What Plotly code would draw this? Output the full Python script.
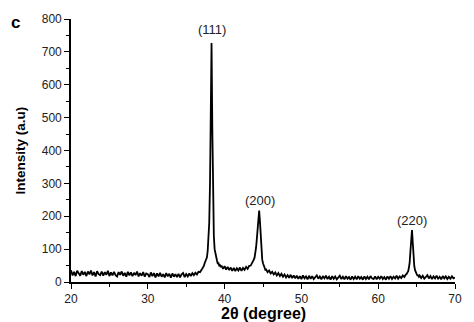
import numpy as np
import plotly.graph_objects as go

# ---- data: XRD pattern (segments of 2theta grid) ----
seg_a_range = (20.0, 37.0)
seg_a = [36, 20, 31, 18, 34, 24, 19, 33, 22, 31,
         18, 32, 23, 35, 20, 30, 17, 33, 24, 21,
         32, 19, 30, 22, 34, 18, 29, 20, 31, 21,
         17, 30, 22, 32, 19, 28, 16, 31, 20, 29,
         18, 28, 21, 32, 17, 27, 19, 30, 16, 26,
         24, 15, 29, 18, 27, 14, 26, 17, 28, 16,
         24, 14, 27, 17, 25, 13, 26, 16, 24, 15,
         25, 14, 23, 27, 15, 24, 17, 26, 18, 27,
         21, 28, 23, 31, 30, 37]
seg_b_range = (37.1, 39.5)
seg_b = [40, 46, 49, 57, 62, 70, 75, 95, 125, 180, 300, 520, 727,
         470, 240, 140, 100, 84, 70, 66, 57, 57, 50, 51, 45]
seg_c_range = (39.6, 43.6)
seg_c = [50, 40, 48, 38, 46, 36, 44, 34, 43, 33, 42, 35, 44, 34, 43,
         37, 46, 40, 49, 50, 58]
seg_d_range = (43.7, 45.3)
seg_d = [60, 68, 74, 88, 105, 132, 165, 200, 217, 185, 130, 92, 68,
         57, 46, 44, 37]
seg_e_range = (45.4, 63.6)
seg_e = [38, 30, 35, 26, 31, 23, 29, 20, 27, 18,
         25, 16, 23, 14, 21, 13, 22, 12, 20, 11,
         19, 10, 18, 9, 20, 11, 17, 8, 19, 10,
         18, 9, 16, 20, 10, 17, 8, 18, 11, 19,
         9, 16, 7, 18, 10, 17, 8, 15, 19, 9,
         16, 8, 18, 10, 15, 7, 17, 9, 16, 8,
         18, 10, 15, 7, 17, 9, 16, 8, 18, 11,
         9, 17, 8, 16, 10, 18, 9, 15, 7, 17,
         10, 18, 9, 16, 11, 19, 10, 17, 12, 20,
         15, 23]
seg_f_range = (63.7, 65.3)
seg_f = [24, 29, 32, 44, 60, 95, 140, 158, 120, 75, 48, 36, 27, 25,
         20, 20, 16]
seg_g_range = (65.4, 70.0)
seg_g = [20, 12, 19, 10, 17, 21, 11, 18, 9, 17,
         11, 19, 10, 16, 8, 18, 11, 17, 9, 16,
         10, 17, 11, 14]

peak_labels = ["(111)", "(200)", "(220)"]
peak_pos = [38.4, 44.6, 64.45]
label_y = [769, 247, 188]

x_ticks = [20, 30, 40, 50, 60, 70]
y_ticks = [0, 100, 200, 300, 400, 500, 600, 700, 800]

segments = [(seg_a_range, seg_a), (seg_b_range, seg_b), (seg_c_range, seg_c),
            (seg_d_range, seg_d), (seg_e_range, seg_e), (seg_f_range, seg_f),
            (seg_g_range, seg_g)]
two_theta = np.concatenate([np.linspace(r[0], r[1], len(v)) for r, v in segments])
intensity = np.concatenate([np.array(v, dtype=float) for r, v in segments])

FONT = "Liberation Sans, Arial, sans-serif"

fig = go.Figure()
fig.add_trace(go.Scatter(x=two_theta, y=intensity, mode="lines",
                         line=dict(color="black", width=1.8),
                         showlegend=False, hoverinfo="skip"))

for lab, px, py in zip(peak_labels, peak_pos, label_y):
    fig.add_annotation(x=px, y=py, text=lab, showarrow=False,
                       font=dict(family=FONT, size=13, color="#222"),
                       xanchor="center", yanchor="middle")

axis_common = dict(showgrid=False, zeroline=False, showline=True,
                   linecolor="black", linewidth=1.6, ticks="outside",
                   tickcolor="black", tickwidth=1.4, ticklen=5,
                   tickfont=dict(family=FONT, size=12, color="#222"),
                   mirror=False)

fig.update_xaxes(range=[20, 70], tickvals=x_ticks,
                 minor=dict(dtick=5, ticks="outside", ticklen=3,
                            tickcolor="black", tickwidth=1.2),
                 **axis_common)
fig.update_yaxes(range=[0, 800], tickvals=y_ticks,
                 minor=dict(dtick=50, ticks="outside", ticklen=3,
                            tickcolor="black", tickwidth=1.2),
                 **axis_common)

fig.add_annotation(xref="paper", yref="paper", x=0, y=0.5,
                   text="<b>Intensity (a.u)</b>", textangle=-90,
                   showarrow=False, xanchor="center", yanchor="middle",
                   xshift=-51,
                   font=dict(family=FONT, size=13.5, color="black"))
fig.add_annotation(xref="paper", yref="paper", x=0.5, y=0,
                   text="<b>2θ (degree)</b>", showarrow=False,
                   xanchor="center", yanchor="middle", yshift=-31,
                   font=dict(family=FONT, size=16, color="black"))
fig.add_annotation(xref="paper", yref="paper", x=0, y=1,
                   text="<b>c</b>", showarrow=False,
                   xanchor="center", yanchor="middle",
                   xshift=-56, yshift=-3,
                   font=dict(family=FONT, size=17, color="black"))

fig.update_layout(width=474, height=322,
                  margin=dict(l=71, r=19, t=13, b=40),
                  plot_bgcolor="white", paper_bgcolor="white")

fig.write_html("out.html")
